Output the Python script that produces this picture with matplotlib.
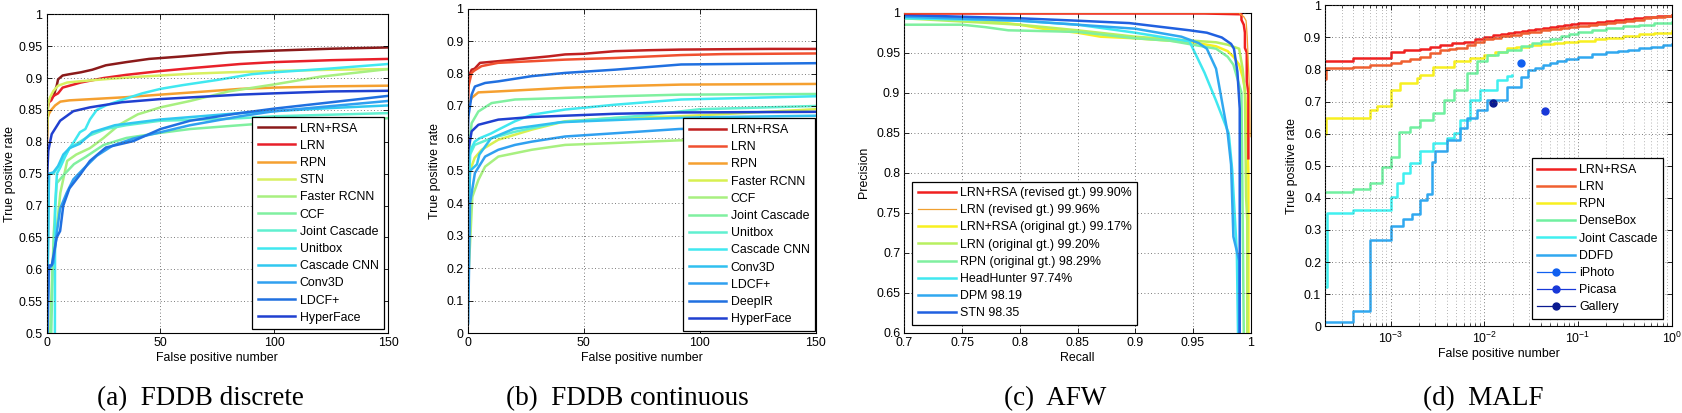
import matplotlib
matplotlib.use("Agg")
import matplotlib.pyplot as plt
from matplotlib.ticker import FuncFormatter, MultipleLocator, LogLocator, NullFormatter

plt.rcParams['font.family'] = ['Liberation Sans', 'DejaVu Sans']
plt.rcParams['mathtext.fontset'] = 'custom'
plt.rcParams['mathtext.rm'] = 'Liberation Sans'
plt.rcParams['mathtext.it'] = 'Liberation Sans'

# ---------------- (a) FDDB discrete ----------------
a_labels = ["LRN+RSA", "LRN", "RPN", "STN", "Faster RCNN", "CCF", "Joint Cascade",
            "Unitbox", "Cascade CNN", "Conv3D", "LDCF+", "HyperFace"]
a_colors = ["#8b1a1a", "#e8202a", "#f5a030", "#d8f060", "#a8f080", "#80f0a0",
            "#60f0d0", "#40e8f0", "#30c8f0", "#30a0f0", "#2070e0", "#2040d0"]
a_lrn_rsa_x = [0, 0.3, 1, 2, 3, 4.4, 5, 7, 10, 15, 20, 26, 35, 45, 60, 80, 100, 125, 150]
a_lrn_rsa_y = [0.80, 0.855, 0.865, 0.868, 0.872, 0.888, 0.898, 0.904, 0.906, 0.909, 0.913, 0.92,
               0.925, 0.93, 0.934, 0.94, 0.943, 0.946, 0.948]
a_lrn_x = [0, 0.3, 1, 2, 3, 5, 7, 10, 15, 25, 35, 50, 65, 85, 100, 125, 150]
a_lrn_y = [0.79, 0.85, 0.862, 0.865, 0.872, 0.876, 0.885, 0.888, 0.893, 0.9, 0.905, 0.911,
           0.916, 0.922, 0.925, 0.928, 0.93]
a_rpn_x = [0, 0.2, 1, 2, 3.7, 6, 10, 20, 35, 50, 70, 85, 100, 125, 150]
a_rpn_y = [0.72, 0.835, 0.844, 0.85, 0.857, 0.863, 0.865, 0.867, 0.87, 0.874, 0.879, 0.883,
           0.885, 0.887, 0.888]
a_stn_x = [0, 0.7, 1.5, 3, 5, 9, 15, 25, 40, 50, 65, 80, 100, 125, 150]
a_stn_y = [0.80, 0.86, 0.87, 0.88, 0.888, 0.893, 0.895, 0.898, 0.902, 0.904, 0.907, 0.909,
           0.911, 0.913, 0.914]
a_frcnn_x = [1.5, 2.5, 3, 4, 6, 9, 13, 19, 25, 32, 40, 50, 63, 80, 100, 120, 150]
a_frcnn_y = [0.5, 0.6, 0.63, 0.65, 0.72, 0.77, 0.78, 0.79, 0.806, 0.827, 0.843, 0.854, 0.864,
             0.879, 0.89, 0.902, 0.914]
a_ccf_x = [2, 2.5, 3, 4.4, 8, 12, 17, 25, 35, 50, 63, 85, 100, 125, 150]
a_ccf_y = [0.5, 0.58, 0.65, 0.735, 0.75, 0.765, 0.776, 0.795, 0.806, 0.814, 0.82, 0.826,
           0.83, 0.834, 0.837]
a_joint_x = [0.5, 1, 2.9, 5.9, 10, 14.6, 19, 26, 35, 50, 80, 100, 150]
a_joint_y = [0.62, 0.75, 0.75, 0.765, 0.79, 0.80, 0.81, 0.82, 0.826, 0.833, 0.836, 0.84, 0.845]
a_unit_x = [3.6, 3.7, 4.5, 6, 8, 10, 12, 14.6, 17, 19, 22, 26, 30, 35, 42, 50, 60, 75, 90,
            100, 125, 150]
a_unit_y = [0.5, 0.7, 0.75, 0.76, 0.776, 0.79, 0.80, 0.815, 0.82, 0.835, 0.85, 0.857, 0.862,
            0.868, 0.876, 0.883, 0.889, 0.897, 0.906, 0.909, 0.915, 0.922]
a_ccnn_x = [0.3, 0.5, 1, 2.9, 5, 7.3, 10, 14.6, 20, 30, 50, 85, 100, 125, 150]
a_ccnn_y = [0.5, 0.6, 0.75, 0.752, 0.762, 0.78, 0.79, 0.797, 0.815, 0.826, 0.835, 0.845,
            0.848, 0.853, 0.857]
a_conv_x = [0.4, 0.7, 1, 2.9, 4.4, 5.9, 8.8, 11.7, 16, 22, 29, 38, 50, 63, 85, 100, 125, 150]
a_conv_y = [0.5, 0.55, 0.6, 0.61, 0.656, 0.695, 0.72, 0.741, 0.757, 0.778, 0.794, 0.805,
            0.815, 0.826, 0.84, 0.848, 0.856, 0.864]
a_ldcf_x = [0.2, 0.5, 1, 2.2, 4.4, 5.9, 7.3, 10, 14.6, 19, 26, 38, 50, 63, 85, 100, 125, 150]
a_ldcf_y = [0.5, 0.55, 0.606, 0.606, 0.65, 0.66, 0.70, 0.727, 0.748, 0.77, 0.791, 0.801,
            0.82, 0.833, 0.845, 0.852, 0.862, 0.872]
a_hyper_x = [0, 0.7, 2.2, 5.9, 11.7, 19, 33, 50, 85, 100, 125, 150]
a_hyper_y = [0.73, 0.786, 0.812, 0.833, 0.848, 0.854, 0.862, 0.867, 0.874, 0.876, 0.879, 0.88]

# ---------------- (b) FDDB continuous ----------------
b_labels = ["LRN+RSA", "LRN", "RPN", "Faster RCNN", "CCF", "Joint Cascade", "Unitbox",
            "Cascade CNN", "Conv3D", "LDCF+", "DeepIR", "HyperFace"]
b_colors = ["#c02020", "#f05030", "#f5a030", "#d8f050", "#a8f080", "#80f0a0", "#60f0d0",
            "#40e8f0", "#30c0f0", "#30a0f0", "#2070e0", "#2040d0"]
b_lrn_rsa_x = [0, 0.3, 1, 1.7, 3, 5.3, 13, 20, 27.6, 35, 42, 50, 63.5, 78, 92, 110, 130, 150]
b_lrn_rsa_y = [0.70, 0.78, 0.80, 0.812, 0.815, 0.833, 0.838, 0.843, 0.848, 0.853, 0.859, 0.861,
               0.869, 0.872, 0.874, 0.875, 0.876, 0.876]
b_lrn_x = [0, 0.3, 1.7, 3, 6, 13, 27.6, 42, 63.5, 92, 110, 130, 150]
b_lrn_y = [0.68, 0.76, 0.802, 0.81, 0.823, 0.833, 0.838, 0.843, 0.848, 0.857, 0.86, 0.861, 0.862]
b_rpn_x = [0, 0.3, 1.7, 4.6, 13.2, 42, 63.5, 92, 150]
b_rpn_y = [0.65, 0.699, 0.725, 0.742, 0.745, 0.756, 0.761, 0.766, 0.768]
b_frcnn_x = [0.3, 1, 3, 6, 13.2, 27.6, 42, 63.5, 91, 150]
b_frcnn_y = [0.3, 0.5, 0.54, 0.565, 0.596, 0.627, 0.653, 0.663, 0.668, 0.69]
b_ccf_x = [0.5, 2, 4.6, 7.5, 13.2, 27.6, 42, 63.5, 91, 150]
b_ccf_y = [0.2, 0.42, 0.472, 0.513, 0.544, 0.565, 0.58, 0.586, 0.594, 0.6]
b_joint_x = [0.3, 1, 1.7, 4.6, 10.3, 20.4, 42, 63.5, 92, 150]
b_joint_y = [0.4, 0.6, 0.647, 0.683, 0.709, 0.72, 0.725, 0.73, 0.735, 0.737]
b_unit_x = [0.3, 1, 3, 10, 20, 40, 75, 100, 150]
b_unit_y = [0.35, 0.55, 0.58, 0.6, 0.62, 0.65, 0.67, 0.69, 0.70]
b_ccnn_x = [0.3, 1, 3, 5, 10, 13.2, 20.4, 27.6, 42, 63.5, 92, 150]
b_ccnn_y = [0.35, 0.56, 0.59, 0.6, 0.615, 0.627, 0.653, 0.673, 0.689, 0.704, 0.72, 0.73]
b_conv_x = [0.3, 1, 4, 5, 10, 20, 40, 75, 100, 150]
b_conv_y = [0.3, 0.5, 0.52, 0.55, 0.6, 0.63, 0.65, 0.66, 0.665, 0.67]
b_ldcf_x = [0.2, 1, 3.1, 7.5, 13.2, 20.4, 27.6, 42, 63.5, 91, 150]
b_ldcf_y = [0.03, 0.4, 0.493, 0.544, 0.565, 0.58, 0.59, 0.606, 0.616, 0.629, 0.64]
b_deepir_x = [0, 0.3, 1, 1.7, 3.1, 7.5, 13.2, 27.6, 42, 63.5, 92, 120, 150]
b_deepir_y = [0.6, 0.668, 0.70, 0.735, 0.76, 0.771, 0.776, 0.792, 0.802, 0.812, 0.828, 0.83,
              0.832]
b_hyper_x = [0, 0.3, 1.7, 4.6, 13.2, 27.6, 42, 63.5, 91, 150]
b_hyper_y = [0.5, 0.565, 0.622, 0.642, 0.658, 0.666, 0.67, 0.676, 0.68, 0.682]

# ---------------- (c) AFW ----------------
c_labels = ["LRN+RSA (revised gt.) 99.90%", "LRN (revised gt.) 99.96%",
            "LRN+RSA (original gt.) 99.17%", "LRN (original gt.) 99.20%",
            "RPN (original gt.) 98.29%", "HeadHunter 97.74%", "DPM 98.19", "STN 98.35"]
c_colors = ["#f02020", "#f0a030", "#f8f020", "#b8f060", "#80f0a0", "#40e8f0", "#30a8f0",
            "#2060e0"]
c_widths = [1.8, 0.9, 1.8, 1.8, 1.8, 1.8, 1.8, 1.8]
c_rsa_rev_x = [0.7, 0.96, 0.992, 0.992, 0.994, 0.995, 0.995, 0.9966, 0.9966, 0.998, 0.998]
c_rsa_rev_y = [0.999, 0.999, 0.998, 0.991, 0.985, 0.975, 0.956, 0.95, 0.914, 0.90, 0.818]
c_lrn_rev_x = [0.7, 0.99, 0.991, 0.994, 0.996, 0.997, 0.999, 0.9995]
c_lrn_rev_y = [1.0, 1.0, 0.998, 0.995, 0.99, 0.97, 0.9, 0.845]
c_rsa_org_x = [0.7, 0.72, 0.77, 0.8, 0.82, 0.85, 0.87, 0.9, 0.93, 0.95, 0.97, 0.98, 0.985,
               0.99, 0.993, 0.995, 0.997, 0.998, 0.998]
c_rsa_org_y = [0.997, 0.995, 0.99, 0.985, 0.98, 0.975, 0.97, 0.968, 0.965, 0.963, 0.958,
               0.952, 0.945, 0.935, 0.92, 0.905, 0.85, 0.8, 0.6]
c_lrn_org_x = [0.7, 0.8, 0.85, 0.9, 0.95, 0.97, 0.98, 0.99, 0.993, 0.995, 0.996, 0.997, 0.997]
c_lrn_org_y = [0.993, 0.985, 0.978, 0.97, 0.965, 0.963, 0.96, 0.955, 0.93, 0.9, 0.77, 0.74, 0.6]
c_rpn_org_x = [0.7, 0.75, 0.77, 0.79, 0.85, 0.9, 0.93, 0.95, 0.97, 0.98, 0.985, 0.99, 0.992,
               0.993, 0.994]
c_rpn_org_y = [0.985, 0.985, 0.982, 0.978, 0.976, 0.968, 0.965, 0.96, 0.955, 0.945, 0.935,
               0.91, 0.90, 0.75, 0.6]
c_head_x = [0.7, 0.8, 0.85, 0.9, 0.947, 0.96, 0.97, 0.981, 0.984, 0.988, 0.989]
c_head_y = [0.993, 0.99, 0.985, 0.975, 0.964, 0.925, 0.89, 0.849, 0.803, 0.7, 0.6]
c_dpm_x = [0.7, 0.8, 0.85, 0.9, 0.94, 0.955, 0.962, 0.97, 0.975, 0.98, 0.983, 0.985, 0.99,
           0.99]
c_dpm_y = [0.995, 0.99, 0.985, 0.98, 0.97, 0.962, 0.955, 0.93, 0.89, 0.85, 0.81, 0.72, 0.69,
           0.6]
c_stn_x = [0.7, 0.75, 0.8, 0.85, 0.895, 0.947, 0.962, 0.975, 0.983, 0.9855, 0.9885, 0.9905,
           0.9905]
c_stn_y = [0.997, 0.995, 0.993, 0.99, 0.987, 0.978, 0.975, 0.969, 0.961, 0.955, 0.926, 0.88,
           0.6]

# ---------------- (d) MALF ----------------
d_labels = ["LRN+RSA", "LRN", "RPN", "DenseBox", "Joint Cascade", "DDFD"]
d_colors = ["#f02020", "#f06030", "#f8f020", "#70f0a0", "#40f0f0", "#30a8f0"]
d_lrn_rsa_x = [2e-4, 4e-4, 6e-4, 1e-3, 1.4e-3, 2.06e-3, 2.6e-3, 3.39e-3, 4.5e-3, 6e-3, 8e-3,
               1e-2, 1.25e-2, 1.5e-2, 1.8e-2, 2.06e-2, 2.5e-2, 2.9e-2, 3.5e-2, 4.2e-2, 5e-2,
               6e-2, 7e-2, 8.5e-2, 0.1, 0.13, 0.16, 0.2, 0.25, 0.32, 0.4, 0.5, 0.6, 0.7, 0.85,
               1.0]
d_lrn_rsa_y = [0.828, 0.835, 0.836, 0.855, 0.861, 0.865, 0.871, 0.876, 0.881, 0.887, 0.895,
               0.902, 0.906, 0.91, 0.914, 0.918, 0.921, 0.924, 0.927, 0.93, 0.933, 0.936,
               0.938, 0.941, 0.944, 0.946, 0.949, 0.951, 0.954, 0.957, 0.959, 0.962, 0.964,
               0.966, 0.968, 0.97]
d_lrn_x = [2e-4, 2.05e-4, 4e-4, 6e-4, 1e-3, 1.3e-3, 1.6e-3, 2.06e-3, 2.6e-3, 3.39e-3, 4.2e-3,
           5e-3, 6.5e-3, 8e-3, 1e-2, 1.25e-2, 1.5e-2, 1.9e-2, 2.43e-2, 3e-2, 4e-2, 5e-2,
           6.5e-2, 8e-2, 0.1, 0.13, 0.16, 0.2, 0.25, 0.32, 0.4, 0.5, 0.6, 0.7, 0.85, 1.0]
d_lrn_y = [0.77, 0.804, 0.809, 0.814, 0.821, 0.826, 0.832, 0.84, 0.85, 0.861, 0.864, 0.868,
           0.876, 0.886, 0.894, 0.899, 0.903, 0.908, 0.913, 0.917, 0.922, 0.925, 0.929,
           0.932, 0.934, 0.938, 0.941, 0.945, 0.949, 0.952, 0.955, 0.959, 0.962, 0.965,
           0.968, 0.97]
d_rpn_x = [2e-4, 2.05e-4, 6e-4, 7.1e-4, 1e-3, 1.26e-3, 1.9e-3, 2.06e-3, 2.86e-3, 4.68e-3,
           7e-3, 1e-2, 1.3e-2, 1.75e-2, 2.2e-2, 3e-2, 4e-2, 5.5e-2, 7e-2, 0.1, 0.15, 0.2,
           0.3, 0.45, 0.65, 1.0]
d_rpn_y = [0.6, 0.648, 0.674, 0.686, 0.736, 0.757, 0.772, 0.783, 0.809, 0.825, 0.835, 0.845,
           0.855, 0.866, 0.869, 0.875, 0.878, 0.882, 0.886, 0.89, 0.894, 0.898, 0.905, 0.91,
           0.915, 0.92]
d_dense_x = [2e-4, 4e-4, 6e-4, 8e-4, 1e-3, 1.21e-3, 1.62e-3, 2.06e-3, 2.86e-3, 3.66e-3,
             4.68e-3, 6.53e-3, 8.36e-3, 1.07e-2, 1.4e-2, 1.75e-2, 2.43e-2, 3.2e-2, 4e-2,
             5e-2, 6.5e-2, 8e-2, 0.1, 0.14, 0.2, 0.3, 0.45, 0.65, 1.0]
d_dense_y = [0.417, 0.429, 0.446, 0.496, 0.527, 0.605, 0.621, 0.642, 0.663, 0.705, 0.736,
             0.788, 0.825, 0.845, 0.855, 0.861, 0.873, 0.882, 0.889, 0.895, 0.903, 0.91,
             0.918, 0.922, 0.928, 0.935, 0.94, 0.945, 0.949]
d_joint_x = [2.05e-4, 2.1e-4, 4e-4, 1e-3, 1.16e-3, 1.36e-3, 1.62e-3, 2.06e-3, 2.86e-3,
             3.98e-3, 4.68e-3, 5.53e-3, 7.08e-3, 9.06e-3, 1.37e-2, 1.75e-2, 1.98e-2]
d_joint_y = [0.121, 0.352, 0.362, 0.404, 0.445, 0.477, 0.508, 0.545, 0.571, 0.586, 0.602,
             0.643, 0.705, 0.736, 0.768, 0.78, 0.783]
d_ddfd_x = [2e-4, 4e-4, 6e-4, 1e-3, 1.36e-3, 1.68e-3, 2.06e-3, 2.43e-3, 2.75e-3, 2.99e-3,
            3.98e-3, 5.53e-3, 6.53e-3, 8.36e-3, 1.07e-2, 1.75e-2, 2.43e-2, 2.9e-2, 3.5e-2,
            4.2e-2, 5e-2, 6e-2, 7.5e-2, 0.1, 0.14, 0.2, 0.27, 0.34, 0.45, 0.6, 0.8, 1.0]
d_ddfd_y = [0.012, 0.048, 0.268, 0.314, 0.335, 0.351, 0.392, 0.413, 0.511, 0.545, 0.581,
            0.618, 0.649, 0.675, 0.705, 0.747, 0.776, 0.799, 0.806, 0.814, 0.82, 0.826,
            0.833, 0.84, 0.847, 0.853, 0.858, 0.861, 0.866, 0.871, 0.876, 0.879]
d_point_labels = ["iPhoto", "Picasa", "Gallery"]
d_point_colors = ["#1060f0", "#1838d8", "#0a1a90"]
d_point_x = [0.0247, 0.044, 0.0123]
d_point_y = [0.821, 0.671, 0.695]

captions = ["(a)  FDDB discrete", "(b)  FDDB continuous", "(c)  AFW", "(d)  MALF"]

# ---------------- drawing ----------------
W, H = 1682, 413
fig = plt.figure(figsize=(W / 100, H / 100), dpi=100)

def px_axes(l, t, r, b):
    return fig.add_axes([l / W, 1 - b / H, (r - l) / W, (b - t) / H])

FS = 8.9
grid_kw = dict(color="#505050", linestyle=(0, (1, 3)), linewidth=0.6)
minor_grid_kw = dict(color="#707070", linestyle=(0, (1, 3.5)), linewidth=0.5)

def style(ax):
    ax.tick_params(direction="in", top=True, right=True, length=3.5, width=0.6,
                   labelsize=FS, pad=3)
    ax.tick_params(which="minor", direction="in", top=True, right=True, length=2, width=0.5)
    for s in ax.spines.values():
        s.set_linewidth(0.8)
        s.set_color("black")
    ax.grid(True, which="major", **grid_kw)
    ax.set_axisbelow(False)

fmt_g = FuncFormatter(lambda v, p: "%g" % round(v, 4))

def legend(ax, loc, anchor):
    leg = ax.legend(loc=loc, bbox_to_anchor=anchor, borderaxespad=0, fontsize=FS,
                    handlelength=3.05, handletextpad=0.35, labelspacing=0.42,
                    borderpad=0.45, fancybox=False, framealpha=1, edgecolor="black")
    leg.get_frame().set_linewidth(0.9)
    leg.set_zorder(10)
    return leg

# (a)
ax = px_axes(46.7, 14.3, 388, 333)
a_xs = [a_lrn_rsa_x, a_lrn_x, a_rpn_x, a_stn_x, a_frcnn_x, a_ccf_x, a_joint_x, a_unit_x,
        a_ccnn_x, a_conv_x, a_ldcf_x, a_hyper_x]
a_ys = [a_lrn_rsa_y, a_lrn_y, a_rpn_y, a_stn_y, a_frcnn_y, a_ccf_y, a_joint_y, a_unit_y,
        a_ccnn_y, a_conv_y, a_ldcf_y, a_hyper_y]
for xs, ys, lab, col in zip(a_xs, a_ys, a_labels, a_colors):
    ax.plot(xs, ys, color=col, lw=1.8, label=lab)
ax.set_xlim(0, 150)
ax.set_ylim(0.5, 1)
ax.xaxis.set_major_locator(MultipleLocator(50))
ax.yaxis.set_major_locator(MultipleLocator(0.05))
ax.yaxis.set_major_formatter(fmt_g)
ax.set_xlabel("False positive number", fontsize=FS, labelpad=2)
ax.set_ylabel("True positive rate", fontsize=FS, labelpad=2)
style(ax)
legend(ax, "lower right", (0.989, 0.0116))

# (b)
ax = px_axes(467.7, 8.7, 815.7, 333)
b_xs = [b_lrn_rsa_x, b_lrn_x, b_rpn_x, b_frcnn_x, b_ccf_x, b_joint_x, b_unit_x, b_ccnn_x,
        b_conv_x, b_ldcf_x, b_deepir_x, b_hyper_x]
b_ys = [b_lrn_rsa_y, b_lrn_y, b_rpn_y, b_frcnn_y, b_ccf_y, b_joint_y, b_unit_y, b_ccnn_y,
        b_conv_y, b_ldcf_y, b_deepir_y, b_hyper_y]
for xs, ys, lab, col in zip(b_xs, b_ys, b_labels, b_colors):
    ax.plot(xs, ys, color=col, lw=1.8, label=lab)
ax.set_xlim(0, 150)
ax.set_ylim(0, 1)
ax.xaxis.set_major_locator(MultipleLocator(50))
ax.yaxis.set_major_locator(MultipleLocator(0.1))
ax.yaxis.set_major_formatter(fmt_g)
ax.set_xlabel("False positive number", fontsize=FS, labelpad=2)
ax.set_ylabel("True positive rate", fontsize=FS, labelpad=4)
style(ax)
legend(ax, "lower right", (0.998, 0.007))

# (c)
ax = px_axes(904.3, 12.7, 1250.7, 332.7)
c_xs = [c_rsa_rev_x, c_lrn_rev_x, c_rsa_org_x, c_lrn_org_x, c_rpn_org_x, c_head_x, c_dpm_x,
        c_stn_x]
c_ys = [c_rsa_rev_y, c_lrn_rev_y, c_rsa_org_y, c_lrn_org_y, c_rpn_org_y, c_head_y, c_dpm_y,
        c_stn_y]
handles = []
for xs, ys, lab, col, lw in zip(c_xs, c_ys, c_labels, c_colors, c_widths):
    handles.append(ax.plot(xs, ys, color=col, lw=lw, label=lab)[0])
for h in handles[:2]:
    h.set_zorder(3)
ax.set_xlim(0.7, 1)
ax.set_ylim(0.6, 1)
ax.xaxis.set_major_locator(MultipleLocator(0.05))
ax.yaxis.set_major_locator(MultipleLocator(0.05))
ax.xaxis.set_major_formatter(fmt_g)
ax.yaxis.set_major_formatter(fmt_g)
ax.set_xlabel("Recall", fontsize=FS, labelpad=2)
ax.set_ylabel("Precision", fontsize=FS, labelpad=4)
style(ax)
legend(ax, "lower left", (0.023, 0.024))

# (d)
ax = px_axes(1325.3, 5.3, 1671.7, 326.3)
d_xs = [d_lrn_rsa_x, d_lrn_x, d_rpn_x, d_dense_x, d_joint_x, d_ddfd_x]
d_ys = [d_lrn_rsa_y, d_lrn_y, d_rpn_y, d_dense_y, d_joint_y, d_ddfd_y]
for xs, ys, lab, col in zip(d_xs, d_ys, d_labels, d_colors):
    ax.plot(xs, ys, color=col, lw=1.8, label=lab, drawstyle="steps-post")
for px_, py_, lab, col in zip(d_point_x, d_point_y, d_point_labels, d_point_colors):
    ax.plot([px_], [py_], color=col, lw=0.9, marker="o", markersize=5, label=lab)
ax.set_xscale("log")
ax.set_xlim(2e-4, 1)
ax.set_ylim(0, 1)
ax.xaxis.set_major_locator(LogLocator(base=10, numticks=10))
ax.xaxis.set_minor_locator(LogLocator(base=10, subs=range(2, 10), numticks=20))
ax.xaxis.set_minor_formatter(NullFormatter())
ax.yaxis.set_major_locator(MultipleLocator(0.1))
ax.yaxis.set_major_formatter(fmt_g)
ax.set_xlabel("False positive number", fontsize=FS, labelpad=2)
ax.set_ylabel("True positive rate", fontsize=FS, labelpad=4)
style(ax)
ax.grid(True, which="minor", axis="x", **minor_grid_kw)
legend(ax, "lower right", (0.9757, 0.0227))

# captions
cap_x = [200, 627.5, 1055, 1483]
for cx, txt in zip(cap_x, captions):
    fig.text(cx / W, 1 - 399 / H, txt, ha="center", va="center", fontsize=19.5,
             family=["Liberation Serif", "DejaVu Serif"])

fig.savefig("out.png", dpi=100)
